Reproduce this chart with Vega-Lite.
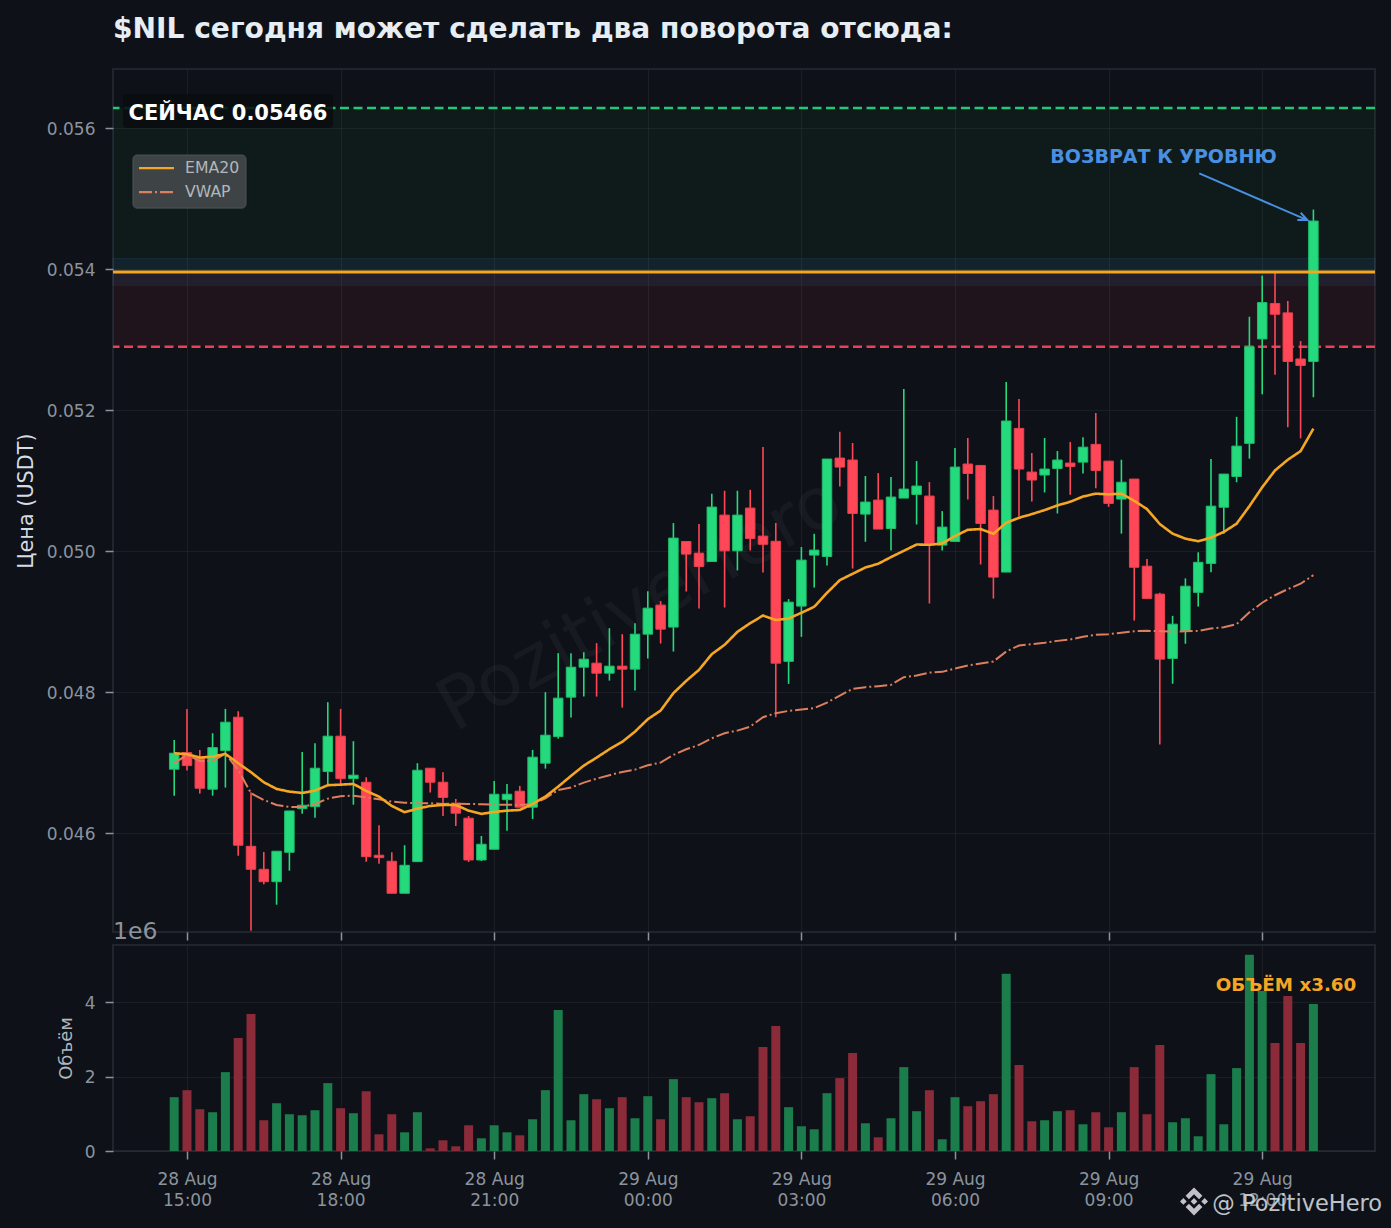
{
  "$schema": "https://vega.github.io/schema/vega-lite/v6.json",
  "background": "#0e1117",
  "padding": {"left": 14, "top": 14, "right": 14, "bottom": 17},
  "datasets": {
    "candles": [
      {"t":"2025-08-28T14:45:00Z","open":0.046911,"high":0.047326,"low":0.046536,"close":0.047138,"volume":1.447,"EMA20":0.047138,"VWAP":0.046996},
      {"t":"2025-08-28T15:00:00Z","open":0.047146,"high":0.047766,"low":0.046891,"close":0.046962,"volume":1.636,"EMA20":0.047123,"VWAP":0.047113},
      {"t":"2025-08-28T15:15:00Z","open":0.047075,"high":0.047184,"low":0.046565,"close":0.046641,"volume":1.124,"EMA20":0.047075,"VWAP":0.047028},
      {"t":"2025-08-28T15:30:00Z","open":0.046627,"high":0.047421,"low":0.046536,"close":0.047217,"volume":1.043,"EMA20":0.047089,"VWAP":0.047028},
      {"t":"2025-08-28T15:45:00Z","open":0.047174,"high":0.047766,"low":0.04665,"close":0.047577,"volume":2.121,"EMA20":0.047128,"VWAP":0.047128},
      {"t":"2025-08-28T16:00:00Z","open":0.047648,"high":0.047733,"low":0.045685,"close":0.045833,"volume":3.038,"EMA20":0.046996,"VWAP":0.046901},
      {"t":"2025-08-28T16:15:00Z","open":0.045818,"high":0.046584,"low":0.044621,"close":0.045492,"volume":3.685,"EMA20":0.046868,"VWAP":0.04657},
      {"t":"2025-08-28T16:30:00Z","open":0.045492,"high":0.045738,"low":0.045279,"close":0.045316,"volume":0.827,"EMA20":0.046726,"VWAP":0.046475},
      {"t":"2025-08-28T16:45:00Z","open":0.045316,"high":0.045748,"low":0.04499,"close":0.045748,"volume":1.285,"EMA20":0.046631,"VWAP":0.046404},
      {"t":"2025-08-28T17:00:00Z","open":0.045733,"high":0.046319,"low":0.045472,"close":0.046319,"volume":0.989,"EMA20":0.046593,"VWAP":0.046376},
      {"t":"2025-08-28T17:15:00Z","open":0.046352,"high":0.047156,"low":0.046281,"close":0.0464,"volume":0.962,"EMA20":0.046574,"VWAP":0.046376},
      {"t":"2025-08-28T17:30:00Z","open":0.04638,"high":0.047279,"low":0.046224,"close":0.046925,"volume":1.097,"EMA20":0.046607,"VWAP":0.046418},
      {"t":"2025-08-28T17:45:00Z","open":0.046877,"high":0.047861,"low":0.046688,"close":0.047379,"volume":1.825,"EMA20":0.046684,"VWAP":0.046494},
      {"t":"2025-08-28T18:00:00Z","open":0.047379,"high":0.047766,"low":0.046684,"close":0.046777,"volume":1.151,"EMA20":0.046692,"VWAP":0.046528},
      {"t":"2025-08-28T18:15:00Z","open":0.046777,"high":0.047308,"low":0.046408,"close":0.046826,"volume":1.016,"EMA20":0.046702,"VWAP":0.046536},
      {"t":"2025-08-28T18:30:00Z","open":0.046726,"high":0.046797,"low":0.0456,"close":0.045671,"volume":1.609,"EMA20":0.046603,"VWAP":0.046513},
      {"t":"2025-08-28T18:45:00Z","open":0.045691,"high":0.046116,"low":0.045572,"close":0.045657,"volume":0.449,"EMA20":0.046522,"VWAP":0.046485},
      {"t":"2025-08-28T19:00:00Z","open":0.045606,"high":0.045733,"low":0.045152,"close":0.045152,"volume":0.989,"EMA20":0.04639,"VWAP":0.046451},
      {"t":"2025-08-28T19:15:00Z","open":0.045152,"high":0.045833,"low":0.045152,"close":0.045549,"volume":0.503,"EMA20":0.046301,"VWAP":0.046437},
      {"t":"2025-08-28T19:30:00Z","open":0.0456,"high":0.046996,"low":0.0456,"close":0.046896,"volume":1.043,"EMA20":0.046352,"VWAP":0.046428},
      {"t":"2025-08-28T19:45:00Z","open":0.046925,"high":0.046925,"low":0.046579,"close":0.046726,"volume":0.072,"EMA20":0.04639,"VWAP":0.046428},
      {"t":"2025-08-28T20:00:00Z","open":0.046726,"high":0.046869,"low":0.046248,"close":0.046511,"volume":0.288,"EMA20":0.046404,"VWAP":0.046418},
      {"t":"2025-08-28T20:15:00Z","open":0.046428,"high":0.046489,"low":0.046106,"close":0.046287,"volume":0.126,"EMA20":0.046404,"VWAP":0.046423},
      {"t":"2025-08-28T20:30:00Z","open":0.046216,"high":0.046248,"low":0.045596,"close":0.045624,"volume":0.692,"EMA20":0.046323,"VWAP":0.046418},
      {"t":"2025-08-28T20:45:00Z","open":0.045624,"high":0.045965,"low":0.04561,"close":0.045847,"volume":0.342,"EMA20":0.046277,"VWAP":0.046414},
      {"t":"2025-08-28T21:00:00Z","open":0.045776,"high":0.046745,"low":0.045776,"close":0.046556,"volume":0.692,"EMA20":0.046305,"VWAP":0.046408},
      {"t":"2025-08-28T21:15:00Z","open":0.046479,"high":0.046702,"low":0.04604,"close":0.046556,"volume":0.503,"EMA20":0.046323,"VWAP":0.046408},
      {"t":"2025-08-28T21:30:00Z","open":0.046599,"high":0.046674,"low":0.046372,"close":0.046372,"volume":0.422,"EMA20":0.046333,"VWAP":0.046404},
      {"t":"2025-08-28T21:45:00Z","open":0.046372,"high":0.047184,"low":0.046206,"close":0.047081,"volume":0.854,"EMA20":0.046418,"VWAP":0.046418},
      {"t":"2025-08-28T22:00:00Z","open":0.046996,"high":0.048003,"low":0.046919,"close":0.047393,"volume":1.636,"EMA20":0.046522,"VWAP":0.046499},
      {"t":"2025-08-28T22:15:00Z","open":0.047373,"high":0.048556,"low":0.047345,"close":0.047918,"volume":3.793,"EMA20":0.046664,"VWAP":0.046617},
      {"t":"2025-08-28T22:30:00Z","open":0.047932,"high":0.048556,"low":0.047643,"close":0.048357,"volume":0.827,"EMA20":0.046816,"VWAP":0.04665},
      {"t":"2025-08-28T22:45:00Z","open":0.048357,"high":0.04857,"low":0.04794,"close":0.048471,"volume":1.528,"EMA20":0.046962,"VWAP":0.046721},
      {"t":"2025-08-28T23:00:00Z","open":0.048414,"high":0.048698,"low":0.04794,"close":0.048272,"volume":1.393,"EMA20":0.047075,"VWAP":0.046777},
      {"t":"2025-08-28T23:15:00Z","open":0.048272,"high":0.04891,"low":0.048167,"close":0.048372,"volume":1.151,"EMA20":0.047194,"VWAP":0.046826},
      {"t":"2025-08-28T23:30:00Z","open":0.048372,"high":0.048825,"low":0.047784,"close":0.048329,"volume":1.447,"EMA20":0.047298,"VWAP":0.046872},
      {"t":"2025-08-28T23:45:00Z","open":0.048329,"high":0.048981,"low":0.048025,"close":0.048825,"volume":0.881,"EMA20":0.047444,"VWAP":0.046905},
      {"t":"2025-08-29T00:00:00Z","open":0.048825,"high":0.049435,"low":0.048479,"close":0.049194,"volume":1.474,"EMA20":0.04762,"VWAP":0.046967},
      {"t":"2025-08-29T00:15:00Z","open":0.049237,"high":0.049294,"low":0.048692,"close":0.048896,"volume":0.854,"EMA20":0.047742,"VWAP":0.047004},
      {"t":"2025-08-29T00:30:00Z","open":0.048925,"high":0.0504,"low":0.048579,"close":0.050187,"volume":1.933,"EMA20":0.047989,"VWAP":0.047113},
      {"t":"2025-08-29T00:45:00Z","open":0.050139,"high":0.050139,"low":0.04943,"close":0.04996,"volume":1.447,"EMA20":0.048163,"VWAP":0.047194},
      {"t":"2025-08-29T01:00:00Z","open":0.049974,"high":0.050386,"low":0.049189,"close":0.049784,"volume":1.312,"EMA20":0.048319,"VWAP":0.047255},
      {"t":"2025-08-29T01:15:00Z","open":0.049855,"high":0.050816,"low":0.049855,"close":0.050627,"volume":1.42,"EMA20":0.048542,"VWAP":0.04735},
      {"t":"2025-08-29T01:30:00Z","open":0.050513,"high":0.050858,"low":0.049203,"close":0.050007,"volume":1.555,"EMA20":0.048674,"VWAP":0.047421},
      {"t":"2025-08-29T01:45:00Z","open":0.050007,"high":0.050858,"low":0.049728,"close":0.050513,"volume":0.854,"EMA20":0.048858,"VWAP":0.047458},
      {"t":"2025-08-29T02:00:00Z","open":0.050613,"high":0.050872,"low":0.050011,"close":0.050181,"volume":0.935,"EMA20":0.048981,"VWAP":0.047515},
      {"t":"2025-08-29T02:15:00Z","open":0.050215,"high":0.051478,"low":0.049699,"close":0.050099,"volume":2.796,"EMA20":0.049089,"VWAP":0.047648},
      {"t":"2025-08-29T02:30:00Z","open":0.050142,"high":0.0504,"low":0.047648,"close":0.048414,"volume":3.362,"EMA20":0.049025,"VWAP":0.047705},
      {"t":"2025-08-29T02:45:00Z","open":0.04844,"high":0.049322,"low":0.04812,"close":0.049279,"volume":1.178,"EMA20":0.049047,"VWAP":0.047738},
      {"t":"2025-08-29T03:00:00Z","open":0.049223,"high":0.05006,"low":0.048787,"close":0.049875,"volume":0.665,"EMA20":0.049128,"VWAP":0.047756},
      {"t":"2025-08-29T03:15:00Z","open":0.049946,"high":0.050248,"low":0.049486,"close":0.050017,"volume":0.584,"EMA20":0.049213,"VWAP":0.047776},
      {"t":"2025-08-29T03:30:00Z","open":0.049926,"high":0.051308,"low":0.049799,"close":0.051308,"volume":1.555,"EMA20":0.049411,"VWAP":0.047855},
      {"t":"2025-08-29T03:45:00Z","open":0.051322,"high":0.051695,"low":0.050919,"close":0.051194,"volume":1.96,"EMA20":0.049591,"VWAP":0.047955},
      {"t":"2025-08-29T04:00:00Z","open":0.051294,"high":0.051535,"low":0.049756,"close":0.050536,"volume":2.634,"EMA20":0.049681,"VWAP":0.04805},
      {"t":"2025-08-29T04:15:00Z","open":0.050527,"high":0.051067,"low":0.050135,"close":0.050698,"volume":0.746,"EMA20":0.04977,"VWAP":0.048074},
      {"t":"2025-08-29T04:30:00Z","open":0.050726,"high":0.051109,"low":0.050315,"close":0.050315,"volume":0.369,"EMA20":0.049823,"VWAP":0.048088},
      {"t":"2025-08-29T04:45:00Z","open":0.050323,"high":0.051052,"low":0.050011,"close":0.050769,"volume":0.881,"EMA20":0.049918,"VWAP":0.048106},
      {"t":"2025-08-29T05:00:00Z","open":0.050754,"high":0.052301,"low":0.050754,"close":0.050882,"volume":2.256,"EMA20":0.050007,"VWAP":0.048216},
      {"t":"2025-08-29T05:15:00Z","open":0.050806,"high":0.051279,"low":0.05038,"close":0.050925,"volume":1.07,"EMA20":0.050096,"VWAP":0.048238},
      {"t":"2025-08-29T05:30:00Z","open":0.050783,"high":0.050981,"low":0.04926,"close":0.050092,"volume":1.636,"EMA20":0.050092,"VWAP":0.048281},
      {"t":"2025-08-29T05:45:00Z","open":0.050088,"high":0.05057,"low":0.050011,"close":0.050343,"volume":0.315,"EMA20":0.05011,"VWAP":0.048291},
      {"t":"2025-08-29T06:00:00Z","open":0.050139,"high":0.051464,"low":0.050139,"close":0.051194,"volume":1.447,"EMA20":0.050215,"VWAP":0.048338},
      {"t":"2025-08-29T06:15:00Z","open":0.051237,"high":0.051606,"low":0.050735,"close":0.051103,"volume":1.204,"EMA20":0.050305,"VWAP":0.04838},
      {"t":"2025-08-29T06:30:00Z","open":0.051217,"high":0.051217,"low":0.049813,"close":0.050394,"volume":1.339,"EMA20":0.050315,"VWAP":0.048408},
      {"t":"2025-08-29T06:45:00Z","open":0.050584,"high":0.050783,"low":0.04933,"close":0.049634,"volume":1.528,"EMA20":0.050248,"VWAP":0.048437},
      {"t":"2025-08-29T07:00:00Z","open":0.049705,"high":0.0524,"low":0.049705,"close":0.051847,"volume":4.764,"EMA20":0.050404,"VWAP":0.048579},
      {"t":"2025-08-29T07:15:00Z","open":0.051742,"high":0.052159,"low":0.050493,"close":0.051166,"volume":2.31,"EMA20":0.050475,"VWAP":0.048664},
      {"t":"2025-08-29T07:30:00Z","open":0.051123,"high":0.051393,"low":0.050706,"close":0.05101,"volume":0.8,"EMA20":0.050527,"VWAP":0.048684},
      {"t":"2025-08-29T07:45:00Z","open":0.051081,"high":0.051606,"low":0.050834,"close":0.051166,"volume":0.827,"EMA20":0.050584,"VWAP":0.048702},
      {"t":"2025-08-29T08:00:00Z","open":0.051174,"high":0.051421,"low":0.050536,"close":0.051294,"volume":1.07,"EMA20":0.05065,"VWAP":0.04873},
      {"t":"2025-08-29T08:15:00Z","open":0.051251,"high":0.051549,"low":0.050801,"close":0.051203,"volume":1.097,"EMA20":0.050702,"VWAP":0.048749},
      {"t":"2025-08-29T08:30:00Z","open":0.051264,"high":0.051618,"low":0.051102,"close":0.051476,"volume":0.719,"EMA20":0.050776,"VWAP":0.048787},
      {"t":"2025-08-29T08:45:00Z","open":0.051516,"high":0.051962,"low":0.050892,"close":0.051146,"volume":1.043,"EMA20":0.050817,"VWAP":0.048816},
      {"t":"2025-08-29T09:00:00Z","open":0.051278,"high":0.051278,"low":0.05063,"close":0.050679,"volume":0.638,"EMA20":0.050807,"VWAP":0.048825},
      {"t":"2025-08-29T09:15:00Z","open":0.05074,"high":0.051298,"low":0.05025,"close":0.050979,"volume":1.043,"EMA20":0.050817,"VWAP":0.048845},
      {"t":"2025-08-29T09:30:00Z","open":0.051024,"high":0.051024,"low":0.049018,"close":0.049773,"volume":2.256,"EMA20":0.050716,"VWAP":0.048867},
      {"t":"2025-08-29T09:45:00Z","open":0.049789,"high":0.049889,"low":0.049332,"close":0.049332,"volume":0.989,"EMA20":0.050598,"VWAP":0.048872},
      {"t":"2025-08-29T10:00:00Z","open":0.049393,"high":0.049413,"low":0.047261,"close":0.048471,"volume":2.85,"EMA20":0.050386,"VWAP":0.048867},
      {"t":"2025-08-29T10:15:00Z","open":0.048481,"high":0.049085,"low":0.048122,"close":0.048967,"volume":0.773,"EMA20":0.05025,"VWAP":0.048861},
      {"t":"2025-08-29T10:30:00Z","open":0.048867,"high":0.049616,"low":0.048689,"close":0.049505,"volume":0.881,"EMA20":0.050179,"VWAP":0.048867},
      {"t":"2025-08-29T10:45:00Z","open":0.049418,"high":0.049986,"low":0.049216,"close":0.049844,"volume":0.396,"EMA20":0.050143,"VWAP":0.048872},
      {"t":"2025-08-29T11:00:00Z","open":0.049828,"high":0.051308,"low":0.049702,"close":0.05064,"volume":2.067,"EMA20":0.050193,"VWAP":0.048906},
      {"t":"2025-08-29T11:15:00Z","open":0.050624,"high":0.051095,"low":0.05025,"close":0.051095,"volume":0.719,"EMA20":0.050275,"VWAP":0.048922},
      {"t":"2025-08-29T11:30:00Z","open":0.05106,"high":0.051906,"low":0.050979,"close":0.051491,"volume":2.229,"EMA20":0.050391,"VWAP":0.048967},
      {"t":"2025-08-29T11:45:00Z","open":0.05153,"high":0.053325,"low":0.051313,"close":0.052899,"volume":5.276,"EMA20":0.05064,"VWAP":0.049135},
      {"t":"2025-08-29T12:00:00Z","open":0.05301,"high":0.053908,"low":0.052225,"close":0.053526,"volume":4.306,"EMA20":0.050908,"VWAP":0.049271},
      {"t":"2025-08-29T12:15:00Z","open":0.053512,"high":0.053947,"low":0.052504,"close":0.05336,"volume":2.903,"EMA20":0.051146,"VWAP":0.049377},
      {"t":"2025-08-29T12:30:00Z","open":0.05338,"high":0.053548,"low":0.051759,"close":0.052691,"volume":4.171,"EMA20":0.051298,"VWAP":0.049464},
      {"t":"2025-08-29T12:45:00Z","open":0.052726,"high":0.05298,"low":0.051601,"close":0.052635,"volume":2.903,"EMA20":0.05142,"VWAP":0.04954},
      {"t":"2025-08-29T13:00:00Z","open":0.052691,"high":0.054844,"low":0.052184,"close":0.054682,"volume":3.955,"EMA20":0.051739,"VWAP":0.049661}
    ]
  },
  "config": {
    "font": "DejaVu Sans",
    "view": {"stroke": "#1f252d", "strokeWidth": 2},
    "axis": {
      "domain": false,
      "grid": true,
      "gridColor": "#30363d",
      "gridOpacity": 0.38,
      "gridWidth": 1,
      "tickColor": "#8b949e",
      "tickSize": 8,
      "tickWidth": 1.5,
      "labelColor": "#8b949e",
      "labelFont": "DejaVu Sans",
      "labelFontSize": 17,
      "labelPadding": 10,
      "zindex": 1
    }
  },
  "vconcat": [
    {
      "width": 1262,
      "height": 863,
      "title": {
        "text": "$NIL сегодня может сделать два поворота отсюда:",
        "anchor": "start",
        "frame": "group",
        "color": "#e6edf3",
        "font": "DejaVu Sans",
        "fontWeight": "bold",
        "fontSize": 28.1,
        "offset": 25
      },
      "layer": [
        {
          "data": {"values": [{"lo": 0.05396, "hi": 0.056284}]},
          "mark": {"type": "rect", "fill": "#2ecc71", "opacity": 0.05},
          "encoding": {"y": {"field": "lo", "type": "quantitative"}, "y2": {"field": "hi"}}
        },
        {
          "data": {"values": [{"lo": 0.0529, "hi": 0.05396}]},
          "mark": {"type": "rect", "fill": "#ff4757", "opacity": 0.075},
          "encoding": {"y": {"field": "lo", "type": "quantitative"}, "y2": {"field": "hi"}}
        },
        {
          "data": {"values": [{"lo": 0.05377, "hi": 0.05415}]},
          "mark": {"type": "rect", "fill": "#4a90e2", "fillOpacity": 0.085, "stroke": "#4a90e2", "strokeOpacity": 0.1, "strokeWidth": 1},
          "encoding": {"y": {"field": "lo", "type": "quantitative"}, "y2": {"field": "hi"}}
        },
        {
          "data": {"values": [{"t": "2025-08-28T23:50:52Z", "p": 0.049241, "label": "PozitiveHero"}]},
          "mark": {"type": "text", "fontSize": 72, "angle": -29, "color": "#ffffff", "opacity": 0.035, "align": "center", "baseline": "middle"},
          "encoding": {
            "x": {"field": "t", "type": "temporal"},
            "y": {"field": "p", "type": "quantitative"},
            "text": {"field": "label"}
          }
        },
        {
          "data": {"values": [{"p": 0.056284}]},
          "mark": {"type": "rule", "color": "#22c873", "strokeWidth": 2.4, "strokeDash": [9, 4.5]},
          "encoding": {"y": {"field": "p", "type": "quantitative"}}
        },
        {
          "data": {"values": [{"p": 0.0529}]},
          "mark": {"type": "rule", "color": "#e8415a", "strokeWidth": 2.4, "strokeDash": [9, 4.5]},
          "encoding": {"y": {"field": "p", "type": "quantitative"}}
        },
        {
          "data": {"name": "candles"},
          "mark": {"type": "rule", "strokeWidth": 1.6},
          "encoding": {
            "x": {
              "field": "t",
              "type": "temporal",
              "scale": {"type": "utc", "domain": ["2025-08-28T13:33:17Z", "2025-08-29T14:12:11Z"], "nice": false, "padding": 0},
              "axis": {
                "title": null,
                "labels": false,
                "values": ["2025-08-28T15:00:00Z", "2025-08-28T18:00:00Z", "2025-08-28T21:00:00Z", "2025-08-29T00:00:00Z", "2025-08-29T03:00:00Z", "2025-08-29T06:00:00Z", "2025-08-29T09:00:00Z", "2025-08-29T12:00:00Z"]
              }
            },
            "y": {
              "field": "low",
              "type": "quantitative",
              "scale": {"domain": [0.044603, 0.056837], "nice": false, "zero": false},
              "axis": {
                "title": "Цена (USDT)",
                "titleColor": "#d5dbe1",
                "titleFont": "DejaVu Sans",
                "titleFontWeight": "normal",
                "titleFontSize": 20.8,
                "titleX": -76.5,
                "labelOffset": 1,
                "values": [0.046, 0.048, 0.05, 0.052, 0.054, 0.056],
                "format": ".3f"
              }
            },
            "y2": {"field": "high"},
            "color": {"condition": {"test": "datum.close >= datum.open", "value": "#25d97d"}, "value": "#ff4757"}
          }
        },
        {
          "data": {"name": "candles"},
          "mark": {"type": "bar", "size": 9.5, "strokeWidth": 1},
          "encoding": {
            "x": {"field": "t", "type": "temporal"},
            "y": {"field": "open", "type": "quantitative"},
            "y2": {"field": "close"},
            "fill": {"condition": {"test": "datum.close >= datum.open", "value": "#25d97d"}, "value": "#ff4757"},
            "stroke": {"condition": {"test": "datum.close >= datum.open", "value": "#1fbd6c"}, "value": "#e8404f"}
          }
        },
        {
          "data": {"values": [{"p": 0.05396}]},
          "mark": {"type": "rule", "color": "#f5a623", "strokeWidth": 3},
          "encoding": {"y": {"field": "p", "type": "quantitative"}}
        },
        {
          "data": {"name": "candles"},
          "transform": [{"fold": ["VWAP", "EMA20"], "as": ["series", "price"]}],
          "mark": {"type": "line", "interpolate": "linear"},
          "encoding": {
            "x": {"field": "t", "type": "temporal"},
            "y": {"field": "price", "type": "quantitative"},
            "color": {
              "field": "series",
              "type": "nominal",
              "scale": {"domain": ["EMA20", "VWAP"], "range": ["#f5a623", "#dd7f5e"]},
              "legend": null
            },
            "strokeDash": {
              "field": "series",
              "type": "nominal",
              "scale": {"domain": ["EMA20", "VWAP"], "range": [[1, 0], [13, 3, 2, 3]]},
              "legend": null
            },
            "strokeWidth": {
              "field": "series",
              "type": "nominal",
              "scale": {"domain": ["EMA20", "VWAP"], "range": [2.6, 2]},
              "legend": null
            }
          }
        },
        {
          "data": {"values": [
            {"t": "2025-08-29T10:46:16Z", "p": 0.055357, "n": 1},
            {"t": "2025-08-29T12:52:52Z", "p": 0.054695, "n": 2},
            {"t": "2025-08-29T12:45:07Z", "p": 0.054799, "n": 3},
            {"t": "2025-08-29T12:52:52Z", "p": 0.054695, "n": 4},
            {"t": "2025-08-29T12:41:10Z", "p": 0.054695, "n": 5}
          ]},
          "mark": {"type": "line", "color": "#4a90e2", "strokeWidth": 2},
          "encoding": {
            "x": {"field": "t", "type": "temporal"},
            "y": {"field": "p", "type": "quantitative"},
            "order": {"field": "n"}
          }
        },
        {
          "data": {"values": [{"t": "2025-08-29T10:04:20Z", "p": 0.055589, "label": "ВОЗВРАТ К УРОВНЮ"}]},
          "mark": {"type": "text", "fontSize": 19, "fontWeight": "bold", "color": "#4a90e2", "align": "center", "baseline": "middle"},
          "encoding": {
            "x": {"field": "t", "type": "temporal"},
            "y": {"field": "p", "type": "quantitative"},
            "text": {"field": "label"}
          }
        },
        {
          "data": {"values": [{"t": "2025-08-28T13:45:00Z", "t2": "2025-08-28T17:51:06Z", "lo": 0.056, "hi": 0.056482}]},
          "mark": {"type": "rect", "fill": "#0a0c10", "opacity": 0.88, "cornerRadius": 4},
          "encoding": {
            "x": {"field": "t", "type": "temporal"},
            "x2": {"field": "t2"},
            "y": {"field": "lo", "type": "quantitative"},
            "y2": {"field": "hi"}
          }
        },
        {
          "data": {"values": [{"t": "2025-08-28T15:48:00Z", "p": 0.056206, "label": "СЕЙЧАС 0.05466"}]},
          "mark": {"type": "text", "fontSize": 21, "fontWeight": "bold", "color": "#ffffff", "align": "center", "baseline": "middle"},
          "encoding": {
            "x": {"field": "t", "type": "temporal"},
            "y": {"field": "p", "type": "quantitative"},
            "text": {"field": "label"}
          }
        },
        {
          "data": {"values": [{"t": "2025-08-28T13:56:43Z", "t2": "2025-08-28T16:09:07Z", "lo": 0.054865, "hi": 0.055617}]},
          "mark": {"type": "rect", "fill": "#3e4446", "stroke": "#4f5558", "strokeWidth": 1, "cornerRadius": 4},
          "encoding": {
            "x": {"field": "t", "type": "temporal"},
            "x2": {"field": "t2"},
            "y": {"field": "lo", "type": "quantitative"},
            "y2": {"field": "hi"}
          }
        },
        {
          "data": {"values": [
            {"t": "2025-08-28T14:03:45Z", "p": 0.055433, "series": "EMA20"},
            {"t": "2025-08-28T14:44:46Z", "p": 0.055433, "series": "EMA20"},
            {"t": "2025-08-28T14:03:45Z", "p": 0.055092, "series": "VWAP"},
            {"t": "2025-08-28T14:44:46Z", "p": 0.055092, "series": "VWAP"}
          ]},
          "mark": {"type": "line", "strokeWidth": 2.2},
          "encoding": {
            "x": {"field": "t", "type": "temporal"},
            "y": {"field": "p", "type": "quantitative"},
            "color": {"field": "series", "type": "nominal", "legend": null},
            "strokeDash": {"field": "series", "type": "nominal", "legend": null}
          }
        },
        {
          "data": {"values": [
            {"t": "2025-08-28T14:57:40Z", "p": 0.055433, "series": "EMA20"},
            {"t": "2025-08-28T14:57:40Z", "p": 0.055092, "series": "VWAP"}
          ]},
          "mark": {"type": "text", "fontSize": 15.7, "color": "#b1b7bd", "align": "left", "baseline": "middle"},
          "encoding": {
            "x": {"field": "t", "type": "temporal"},
            "y": {"field": "p", "type": "quantitative"},
            "text": {"field": "series"}
          }
        }
      ]
    },
    {
      "width": 1262,
      "height": 206,
      "layer": [
        {
          "data": {"name": "candles"},
          "mark": {"type": "bar", "size": 9},
          "encoding": {
            "x": {
              "field": "t",
              "type": "temporal",
              "scale": {"type": "utc", "domain": ["2025-08-28T13:33:17Z", "2025-08-29T14:12:11Z"], "nice": false, "padding": 0},
              "axis": {
                "title": null,
                "values": ["2025-08-28T15:00:00Z", "2025-08-28T18:00:00Z", "2025-08-28T21:00:00Z", "2025-08-29T00:00:00Z", "2025-08-29T03:00:00Z", "2025-08-29T06:00:00Z", "2025-08-29T09:00:00Z", "2025-08-29T12:00:00Z"],
                "labelExpr": "[utcFormat(datum.value, '%d %b'), utcFormat(datum.value, '%H:%M')]",
                "labelLineHeight": 21,
                "labelPadding": 12
              }
            },
            "y": {
              "field": "volume",
              "type": "quantitative",
              "scale": {"domain": [0, 5.54], "nice": false},
              "axis": {
                "title": "Объём",
                "titleColor": "#b1b7bd",
                "titleFont": "DejaVu Sans",
                "titleFontWeight": "normal",
                "titleFontSize": 18,
                "titleX": -37.5,
                "labelOffset": 1,
                "values": [0, 2, 4],
                "format": "d"
              }
            },
            "color": {"condition": {"test": "datum.close >= datum.open", "value": "#1b7d4c"}, "value": "#8b2a38"}
          }
        },
        {
          "data": {"values": [{"t": "2025-08-28T13:33:17Z", "v": 5.705, "label": "1e6"}]},
          "mark": {"type": "text", "fontSize": 23.5, "color": "#8b949e", "align": "left", "baseline": "alphabetic"},
          "encoding": {
            "x": {"field": "t", "type": "temporal"},
            "y": {"field": "v", "type": "quantitative"},
            "text": {"field": "label"}
          }
        },
        {
          "data": {"values": [{"t": "2025-08-29T12:27:54Z", "v": 4.44, "label": "ОБЪЁМ x3.60"}]},
          "mark": {"type": "text", "fontSize": 18.3, "fontWeight": "bold", "color": "#f5a623", "align": "center", "baseline": "middle"},
          "encoding": {
            "x": {"field": "t", "type": "temporal"},
            "y": {"field": "v", "type": "quantitative"},
            "text": {"field": "label"}
          }
        },
        {
          "data": {"values": [{"t": "2025-08-29T10:40:05Z", "v": -1.356}]},
          "mark": {
            "type": "point",
            "filled": true,
            "opacity": 0.85,
            "size": 784,
            "color": "#dfe2e6",
            "shape": "M0,-1L0.6,-0.4L0.36,-0.16L0,-0.52L-0.36,-0.16L-0.6,-0.4ZM0,1L0.6,0.4L0.36,0.16L0,0.52L-0.36,0.16L-0.6,0.4ZM-0.76,-0.24L-0.52,0L-0.76,0.24L-1,0ZM0.76,-0.24L0.52,0L0.76,0.24L1,0ZM0,-0.24L0.24,0L0,0.24L-0.24,0Z"
          },
          "encoding": {
            "x": {"field": "t", "type": "temporal"},
            "y": {"field": "v", "type": "quantitative"}
          }
        },
        {
          "data": {"values": [{"t": "2025-08-29T14:20:30Z", "v": -1.43, "label": "@ PozitiveHero"}]},
          "mark": {"type": "text", "fontSize": 22.5, "color": "#dfe2e6", "opacity": 0.85, "align": "right", "baseline": "middle"},
          "encoding": {
            "x": {"field": "t", "type": "temporal"},
            "y": {"field": "v", "type": "quantitative"},
            "text": {"field": "label"}
          }
        }
      ]
    }
  ],
  "spacing": 13,
  "bounds": "flush"
}
